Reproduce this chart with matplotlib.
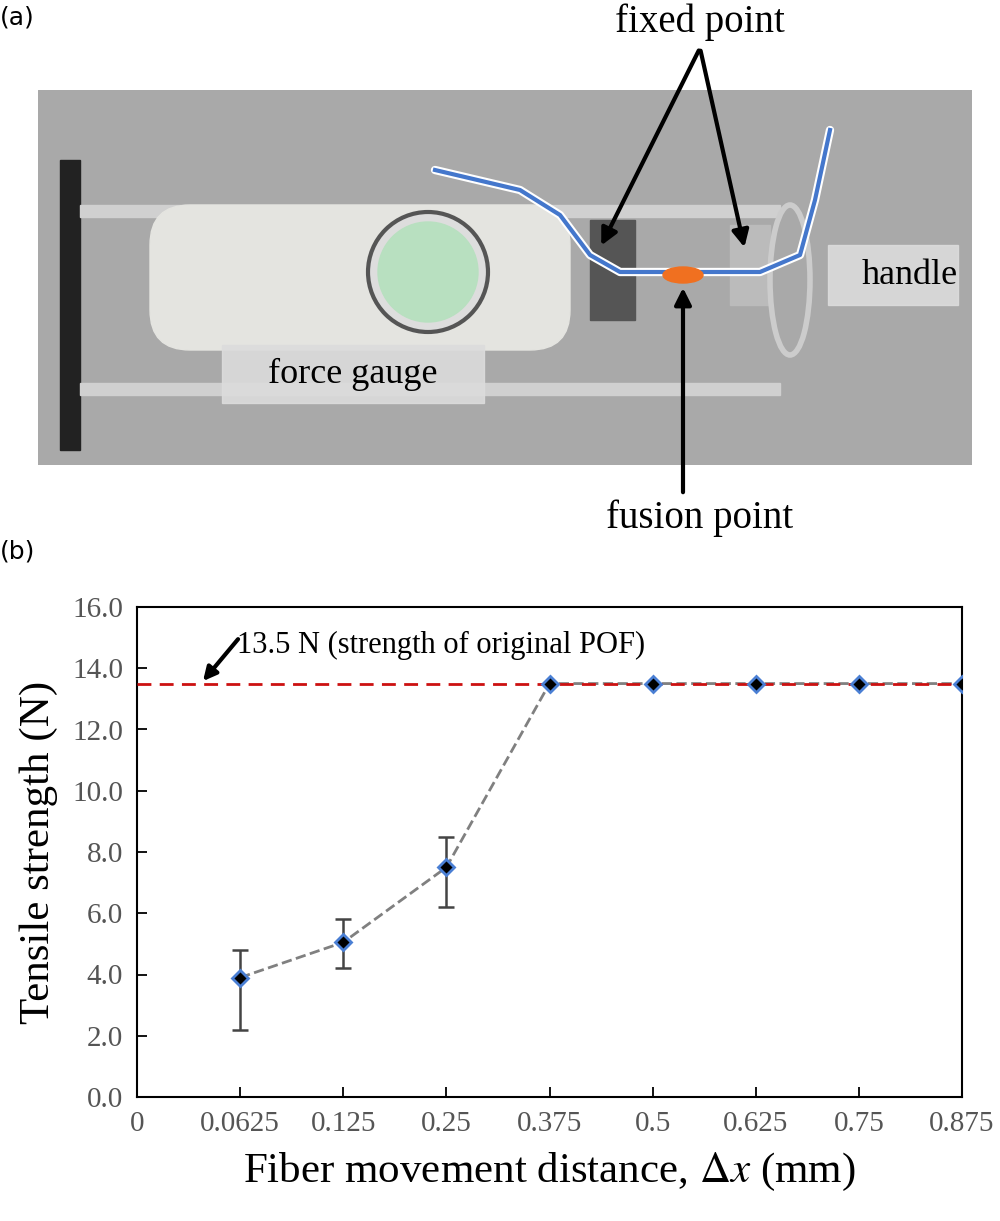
import matplotlib
matplotlib.use("Agg")
import matplotlib.pyplot as plt
from matplotlib.patches import Rectangle, FancyBboxPatch, Circle, Ellipse, FancyArrowPatch

plt.rcParams['font.family'] = ['Liberation Serif', 'DejaVu Serif']
plt.rcParams['mathtext.fontset'] = 'stix'

categories = ["0", "0.0625", "0.125", "0.25", "0.375", "0.5", "0.625", "0.75", "0.875"]
strength = [3.9, 5.05, 7.5, 13.5, 13.5, 13.5, 13.5, 13.5]
err_low = [2.2, 4.2, 6.2, 13.5, 13.5, 13.5, 13.5, 13.5]
err_high = [4.8, 5.8, 8.5, 13.5, 13.5, 13.5, 13.5, 13.5]
original = 13.5
yticks = [0, 2, 4, 6, 8, 10, 12, 14, 16]

W, H = 1000, 1221
fig = plt.figure(figsize=(10, 12.21), dpi=100)

def fx(x): return x / W
def fy(y): return 1 - y / H

# ---- panel (a): schematic stand-in for photo ----
axa = fig.add_axes([fx(38), fy(465), fx(972) - fx(38), fy(90) - fy(465)])
axa.set_xlim(38, 972); axa.set_ylim(465, 90)
axa.axis('off')
axa.add_patch(Rectangle((38, 90), 934, 375, color='#a9a9a9'))
axa.add_patch(Rectangle((60, 160), 20, 290, color='#222222'))
axa.add_patch(Rectangle((80, 205), 700, 12, color='#d0d0d0'))
axa.add_patch(Rectangle((80, 383), 700, 12, color='#d0d0d0'))
axa.add_patch(FancyBboxPatch((150, 205), 420, 145, boxstyle="round,pad=0,rounding_size=40", color='#e4e4e0'))
axa.add_patch(Circle((428, 272), 60, color='#dddddd', ec='#555555', lw=3))
axa.add_patch(Circle((428, 272), 50, color='#b8e0c0'))
axa.add_patch(Rectangle((590, 220), 45, 100, color='#555555'))
axa.add_patch(Rectangle((730, 225), 40, 80, color='#bbbbbb'))
axa.add_patch(Ellipse((790, 280), 40, 150, fill=False, ec='#cccccc', lw=4))
fx_pts = [435, 520, 560, 590, 620, 760, 800, 815, 830]
fy_pts = [170, 190, 215, 255, 272, 272, 255, 200, 130]
axa.plot(fx_pts, fy_pts, color='white', lw=6, solid_capstyle='round')
axa.plot(fx_pts, fy_pts, color='#4477cc', lw=3)
axa.add_patch(Ellipse((683, 275), 40, 16, color='#f07020', zorder=5))
axa.add_patch(Rectangle((222, 345), 262, 58, color='#dcdcdc', alpha=0.9))
axa.text(353, 374, "force gauge", fontsize=26, ha='center', va='center')
axa.add_patch(Rectangle((828, 245), 130, 60, color='#dcdcdc', alpha=0.9))
axa.text(910, 275, "handle", fontsize=26, ha='center', va='center')

fig.text(fx(0), fy(18), "(a)", fontsize=18, family=['DejaVu Sans'], va='center')
fig.text(fx(700), fy(22), "fixed point", fontsize=28, ha='center', va='center')
fig.text(fx(700), fy(518), "fusion point", fontsize=28, ha='center', va='center')
ap = dict(arrowstyle='-|>', color='black', lw=3, mutation_scale=25)
fig.add_artist(FancyArrowPatch((fx(700), fy(48)), (fx(600), fy(248)), transform=fig.transFigure, **ap))
fig.add_artist(FancyArrowPatch((fx(700), fy(48)), (fx(745), fy(250)), transform=fig.transFigure, **ap))
fig.add_artist(FancyArrowPatch((fx(683), fy(495)), (fx(683), fy(285)), transform=fig.transFigure, **ap))

# ---- panel (b) ----
fig.text(fx(0), fy(552), "(b)", fontsize=18, family=['DejaVu Sans'], va='center')
ax = fig.add_axes([fx(137), fy(1097), fx(962) - fx(137), fy(607) - fy(1097)])
x = list(range(1, len(strength) + 1))
ax.plot(x, strength, ls='--', color='gray', lw=2, zorder=2)
ax.axhline(original, color='#cc1111', ls='--', lw=2, dashes=(5, 3), zorder=3)
yerr = [[s - l for s, l in zip(strength, err_low)], [h - s for s, h in zip(strength, err_high)]]
ax.errorbar(x, strength, yerr=yerr, fmt='none', ecolor='#444444', elinewidth=1.8, capsize=6, capthick=1.8, zorder=2)
ax.plot(x, strength, 'D', ms=8, mfc='black', mec='#4a7fd4', mew=2, ls='none', zorder=4)
ax.set_xlim(0, 8)
ax.set_ylim(0, 16)
ax.set_xticks(range(len(categories)))
ax.set_xticklabels(categories)
ax.set_yticks(yticks)
ax.set_yticklabels([f"{v:.1f}" for v in yticks])
ax.tick_params(direction='in', labelsize=21, labelcolor='#555555', length=7, width=1.3, pad=10)
for s in ax.spines.values():
    s.set_linewidth(1.5)
ax.set_ylabel("Tensile strength (N)", fontsize=31, labelpad=10)
ax.set_xlabel(r"Fiber movement distance, $\mathit{\Delta x}$ (mm)", fontsize=31, labelpad=10)
ax.text(0.97, 14.75, "13.5 N (strength of original POF)", fontsize=22, va='center', ha='left')
ax.annotate("", xy=(0.64, 13.58), xytext=(0.98, 14.95),
            arrowprops=dict(arrowstyle='-|>', color='black', lw=3, mutation_scale=20, shrinkA=0, shrinkB=0))

fig.savefig("out.png", dpi=100)
